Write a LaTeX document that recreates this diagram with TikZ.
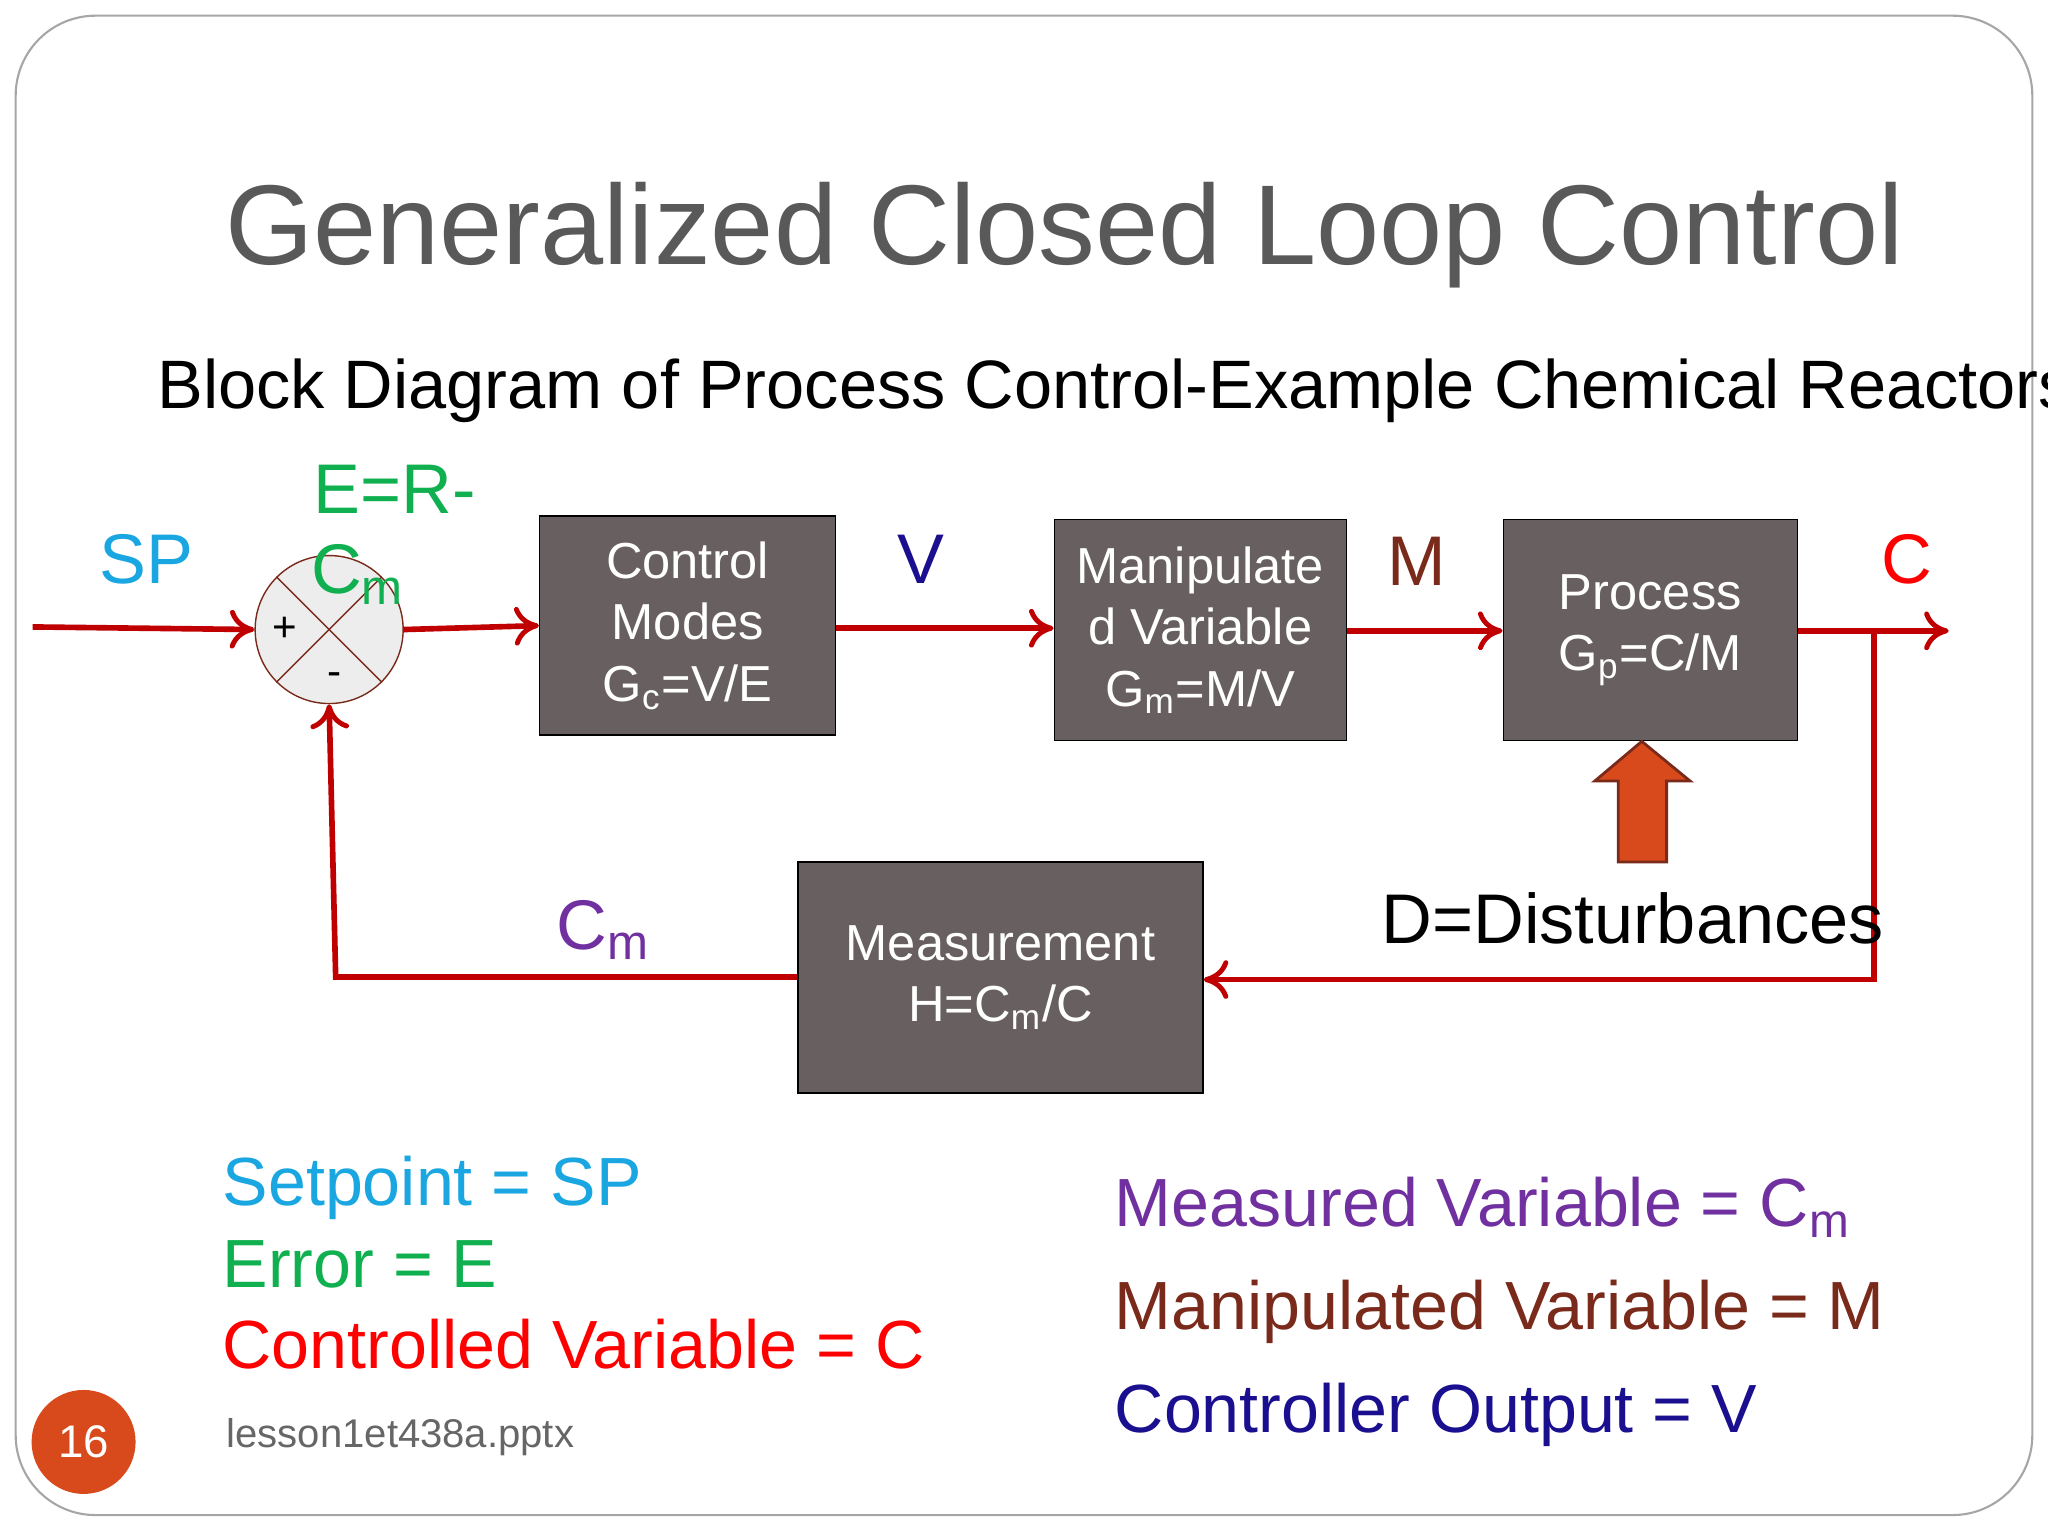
\documentclass[tikz,border=0pt]{standalone}
\usepackage{fontspec}
\setmainfont{Liberation Sans}
\usetikzlibrary{arrows.meta}
\definecolor{linered}{HTML}{C00000}
\definecolor{boxgray}{HTML}{686060}
\definecolor{spcyan}{HTML}{1AA6E0}
\definecolor{egreen}{HTML}{10B050}
\definecolor{vblue}{HTML}{1A0F8F}
\definecolor{mbrown}{HTML}{7A2A1A}
\definecolor{cmpurple}{HTML}{7030A0}
\definecolor{dorange}{HTML}{D84A1B}
\begin{document}
\begin{tikzpicture}[x=0.01306cm, y=-0.01306cm,
        block/.style={draw=black, fill=boxgray, text=white, font=\fontsize{14.4}{17.5}\selectfont, align=center, inner sep=0pt},
        signal/.style={draw=linered, line width=1.6pt, -{To[length=7pt,width=11pt,line width=1.4pt]}},
        varlabel/.style={font=\fontsize{20}{24}\selectfont, anchor=center},
        legend/.style={font=\fontsize{19.4}{23}\selectfont, anchor=base west, inner sep=0pt}
    ]
    \useasboundingbox (0,0) rectangle (1568,1176);
    % Rahmen
    \draw[gray!70, line width=0.6pt, rounded corners=0.8cm] (12,12) rectangle (1556,1160);

    % Titel
    \node[font=\fontsize{32.3}{38}\selectfont, text=black!65] (title) at (815,180) {Generalized Closed Loop Control};
    \node[font=\fontsize{19.5}{23}\selectfont, anchor=base west, inner sep=0pt] (subtitle) at (120,313) {Block Diagram of Process Control-Example Chemical Reactors};

    % Summierstelle
    \node[circle, draw=mbrown, fill=black!7, inner sep=0pt, minimum size=1.48cm] (sum) at (252,482) {};
    \draw[mbrown] (sum.north west) -- (sum.south east);
    \draw[mbrown] (sum.north east) -- (sum.south west);
    \node[font=\fontsize{12}{14}\selectfont] (plus) at (218,482) {+};
    \node[font=\fontsize{12}{14}\selectfont] (minus) at (256,520) {-};

    % Bloecke
    \node[block, minimum width=2.96cm, minimum height=2.19cm] (ctrl) at (526.5,479) {Control\\Modes\\G\textsubscript{c}=V/E};
    \node[block, minimum width=2.92cm, minimum height=2.21cm] (manip) at (919,482.5) {Manipulate\\d Variable\\G\textsubscript{m}=M/V};
    \node[block, minimum width=2.94cm, minimum height=2.21cm] (proc) at (1263.5,482.5) {Process\\G\textsubscript{p}=C/M};
    \node[block, minimum width=4.05cm, minimum height=2.31cm] (meas) at (766,748.5) {Measurement\\H=C\textsubscript{m}/C};

    % Koordinaten
    \coordinate (in) at (25,480);
    \coordinate (out) at (1492,483);
    \coordinate (branch) at (1435,483);
    \coordinate (branchlow) at (1435,750);
    \coordinate (backcorner) at (257,748);

    % Signalpfade
    \draw[signal] (in) -- (sum.west);
    \draw[signal] (sum.east) -- (ctrl.west);
    \draw[signal] (ctrl.east |- 0,481) -- (manip.west |- 0,481);
    \draw[signal] (manip.east |- 0,483) -- (proc.west |- 0,483);
    \draw[signal] (proc.east |- out) -- (out);
    \draw[signal] (branch) -- (branchlow) -- (meas.east |- branchlow);
    \draw[signal] (meas.west |- backcorner) -- (backcorner) -- (sum.south);

    % Stoergroesse
    \coordinate (dtip) at (proc.south -| 1257,567);
    \draw[mbrown, fill=dorange, line width=0.8pt] (dtip) -- (1294,598) -- (1276,598) -- (1276,660)
        -- (1239,660) -- (1239,598) -- (1221,598) -- cycle;
    \node[font=\fontsize{20}{24}\selectfont] (dtext) at (1250,703) {D=Disturbances};

    % Signalbezeichnungen
    \node[varlabel, text=spcyan] (sp) at (112,428) {SP};
    \node[varlabel, text=egreen] (err) at (302,375) {E=R-};
    \node[varlabel, text=egreen] (errcm) at (274,440) {C\textsubscript{m}};
    \node[varlabel, text=vblue] (vlab) at (705,428) {V};
    \node[varlabel, text=mbrown] (mlab) at (1085,430) {M};
    \node[varlabel, text=red] (clab) at (1460,428) {C};
    \node[varlabel, text=cmpurple] (cmlab) at (462,712) {C\textsubscript{m}};

    % Legende
    \node[legend, text=spcyan] (leg1) at (170,923) {Setpoint = SP};
    \node[legend, text=egreen] (leg2) at (170,986) {Error = E};
    \node[legend, text=red] (leg3) at (170,1048) {Controlled Variable = C};
    \node[legend, text=cmpurple] (leg4) at (853,939) {Measured Variable = C\textsubscript{m}};
    \node[legend, text=mbrown] (leg5) at (853,1018) {Manipulated Variable = M};
    \node[legend, text=vblue] (leg6) at (853,1097) {Controller Output = V};

    % Fusszeile
    \node[circle, fill=dorange, minimum size=1.04cm, text=white, font=\fontsize{13}{15}\selectfont] (page) at (64,1104) {16};
    \node[anchor=base west, inner sep=0pt, text=black!60, font=\fontsize{11.4}{14}\selectfont] (file) at (173,1108) {lesson1et438a.pptx};
\end{tikzpicture}
\end{document}
